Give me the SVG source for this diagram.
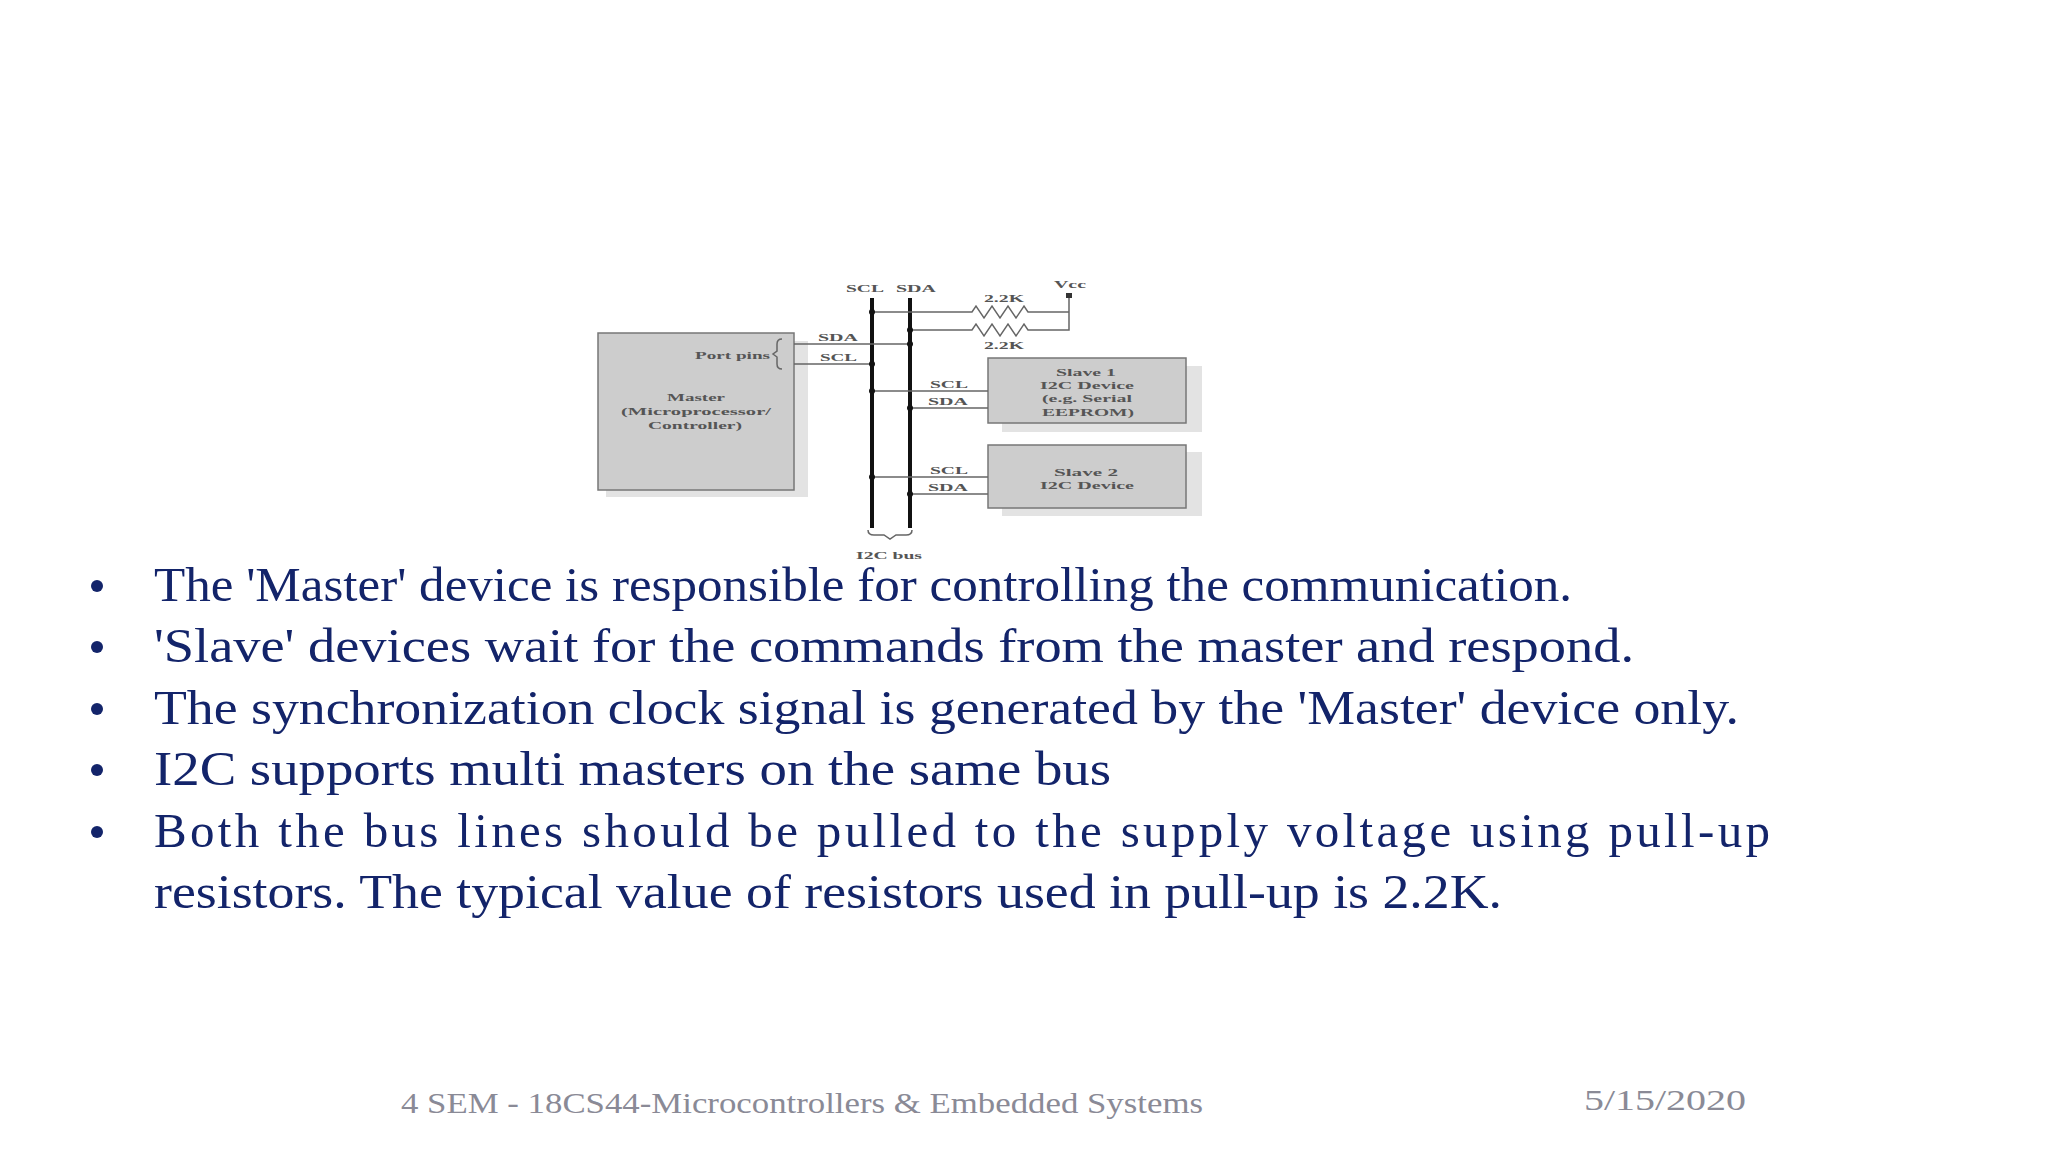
<svg xmlns="http://www.w3.org/2000/svg" width="2048" height="1152" viewBox="0 0 2048 1152">
<style>
.b{font-family:"Liberation Serif",serif;font-size:49px;fill:#13246a}
.f{font-family:"Liberation Serif",serif;font-size:30px;fill:#8a8a96}
.d{font-family:"Liberation Serif",serif;font-size:11px;font-weight:bold;fill:#555}
.box{fill:#cdcdcd;stroke:#777;stroke-width:1.5}
.sh{fill:#e3e3e3}
.w{stroke:#666;stroke-width:1.5;fill:none}
.bus{stroke:#111;stroke-width:4;fill:none}
</style>
<rect width="2048" height="1152" fill="#fff"/>
<g id="master">
<rect class="sh" x="606" y="341" width="202" height="156"/>
<rect class="box" x="598" y="333" width="196" height="157"/>
<text class="d" x="695" y="359" textLength="75" lengthAdjust="spacingAndGlyphs">Port pins</text>
<path class="w" d="M782 339 q-5 0 -5 5 v7 l-4 3 l4 3 v7 q0 5 5 5"/>
<text class="d" x="667" y="401" textLength="58" lengthAdjust="spacingAndGlyphs">Master</text>
<text class="d" x="621" y="415" textLength="150" lengthAdjust="spacingAndGlyphs">(Microprocessor/</text>
<text class="d" x="648" y="429" textLength="94" lengthAdjust="spacingAndGlyphs">Controller)</text>
</g>
<g id="slave1">
<rect class="sh" x="1002" y="366" width="200" height="66"/>
<rect class="box" x="988" y="358" width="198" height="65"/>
<text class="d" x="1056" y="376" textLength="60" lengthAdjust="spacingAndGlyphs">Slave 1</text>
<text class="d" x="1040" y="389" textLength="94" lengthAdjust="spacingAndGlyphs">I2C Device</text>
<text class="d" x="1042" y="402" textLength="90" lengthAdjust="spacingAndGlyphs">(e.g. Serial</text>
<text class="d" x="1042" y="416" textLength="92" lengthAdjust="spacingAndGlyphs">EEPROM)</text>
</g>
<g id="slave2">
<rect class="sh" x="1002" y="452" width="200" height="64"/>
<rect class="box" x="988" y="445" width="198" height="63"/>
<text class="d" x="1054" y="476" textLength="64" lengthAdjust="spacingAndGlyphs">Slave 2</text>
<text class="d" x="1040" y="489" textLength="94" lengthAdjust="spacingAndGlyphs">I2C Device</text>
</g>
<g id="connectors">
<path class="bus" d="M872 298 V528 M910 298 V528"/>
<path class="w" d="M794 344 H910 M794 364 H872 M872 391 H988 M910 408 H988 M872 477 H988 M910 494 H988"/>
<path class="w" stroke-width="2.5" d="M872 312 H972 l4 -6 l8 12 l8 -12 l8 12 l8 -12 l8 12 l8 -12 l4 6 H1069 M910 330 H972 l4 -6 l8 12 l8 -12 l8 12 l8 -12 l8 12 l8 -12 l4 6 H1069 V295"/>
<rect x="1066" y="293" width="6" height="5" fill="#333"/>
<g fill="#111"><circle cx="872" cy="312" r="3"/><circle cx="910" cy="330" r="3"/><circle cx="910" cy="344" r="3"/><circle cx="872" cy="364" r="3"/><circle cx="872" cy="391" r="3"/><circle cx="910" cy="408" r="3"/><circle cx="872" cy="477" r="3"/><circle cx="910" cy="494" r="3"/></g>
<path class="w" d="M868 530 q0 5 6 5 h10 l6 4 l6 -4 h10 q6 0 6 -5"/>
</g>
<g id="labels">
<text class="d" x="846" y="292" textLength="38" lengthAdjust="spacingAndGlyphs">SCL</text>
<text class="d" x="896" y="292" textLength="40" lengthAdjust="spacingAndGlyphs">SDA</text>
<text class="d" x="1054" y="288" textLength="32" lengthAdjust="spacingAndGlyphs">Vcc</text>
<text class="d" x="984" y="302" textLength="40" lengthAdjust="spacingAndGlyphs">2.2K</text>
<text class="d" x="984" y="349" textLength="40" lengthAdjust="spacingAndGlyphs">2.2K</text>
<text class="d" x="818" y="341" textLength="40" lengthAdjust="spacingAndGlyphs">SDA</text>
<text class="d" x="820" y="361" textLength="37" lengthAdjust="spacingAndGlyphs">SCL</text>
<text class="d" x="930" y="388" textLength="38" lengthAdjust="spacingAndGlyphs">SCL</text>
<text class="d" x="928" y="405" textLength="40" lengthAdjust="spacingAndGlyphs">SDA</text>
<text class="d" x="930" y="474" textLength="38" lengthAdjust="spacingAndGlyphs">SCL</text>
<text class="d" x="928" y="491" textLength="40" lengthAdjust="spacingAndGlyphs">SDA</text>
<text class="d" x="856" y="559" textLength="66" lengthAdjust="spacingAndGlyphs">I2C bus</text>
</g>
<g id="text">
<g fill="#13246a"><circle cx="97" cy="586" r="6"/><circle cx="97" cy="647" r="6"/><circle cx="97" cy="709" r="6"/><circle cx="97" cy="770" r="6"/><circle cx="97" cy="832" r="6"/></g>
<text class="b" x="154" y="601" textLength="1418" lengthAdjust="spacingAndGlyphs">The 'Master' device is responsible for controlling the communication.</text>
<text class="b" x="154" y="662" textLength="1480" lengthAdjust="spacingAndGlyphs">'Slave' devices wait for the commands from the master and respond.</text>
<text class="b" x="154" y="724" textLength="1585" lengthAdjust="spacingAndGlyphs">The synchronization clock signal is generated by the 'Master' device only.</text>
<text class="b" x="154" y="785" textLength="957" lengthAdjust="spacingAndGlyphs">I2C supports multi masters on the same bus</text>
<text class="b" x="154" y="847" textLength="1616" lengthAdjust="spacing">Both the bus lines should be pulled to the supply voltage using pull-up</text>
<text class="b" x="154" y="908" textLength="1348" lengthAdjust="spacingAndGlyphs">resistors. The typical value of resistors used in pull-up is 2.2K.</text>
<text class="f" x="401" y="1113" textLength="802" lengthAdjust="spacingAndGlyphs">4 SEM - 18CS44-Microcontrollers &amp; Embedded Systems</text>
<text class="f" x="1584" y="1110" textLength="162" lengthAdjust="spacingAndGlyphs">5/15/2020</text>
</g>
</svg>
